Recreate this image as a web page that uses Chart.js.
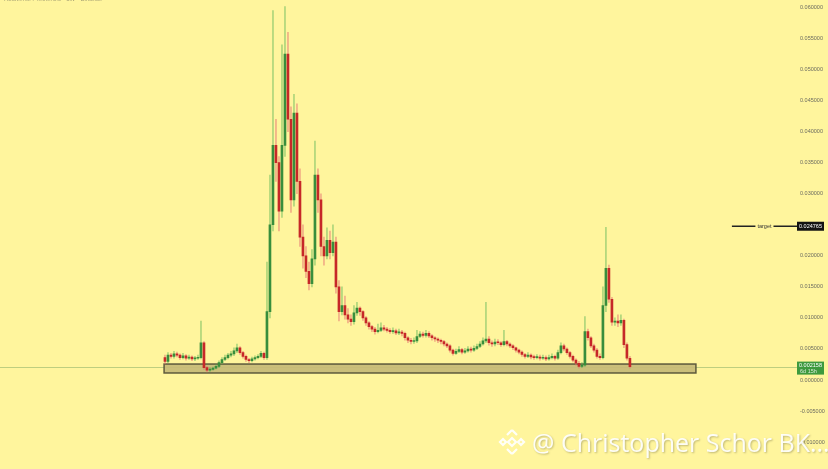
<!DOCTYPE html>
<html>
<head>
<meta charset="utf-8">
<script src="https://cdn.jsdelivr.net/npm/chart.js@4.4.1/dist/chart.umd.min.js"></script>
<style>
  html, body { margin: 0; padding: 0; background: #fff59d; overflow: hidden; }
  #wrap { position: relative; width: 828px; height: 469px; }
  #mycanvas { display: block; }
  #mark {
    position: absolute; left: 498px; top: 425px;
    font-family: "Open Sans", sans-serif; font-size: 25px;
    color: rgba(255,255,255,0.92); text-shadow: 1px 1px 2px rgba(0,0,0,0.25);
    white-space: nowrap; display: flex; align-items: center;
  }
  #mark svg { margin-right: 6px; }
  #title {
    position: absolute; left: 4px; top: -4px;
    font-family: "Liberation Sans", sans-serif; font-size: 6px; color: rgba(90,90,80,0.55);
  }
</style>
</head>
<body>
<div id="wrap">
  <canvas id="mycanvas" width="828" height="469"></canvas>
  <div id="title">Holoverse / TetherUS · 1W · Binance</div>
  <div id="mark">
    <svg width="28" height="28" viewBox="0 0 28 28">
      <g fill="none" stroke="rgba(255,255,255,0.92)" stroke-width="2.2">
        <path d="M14 2 L19 7 M14 2 L9 7"/>
        <path d="M14 26 L19 21 M14 26 L9 21"/>
        <path d="M2 14 L5 11 L8 14 L5 17 Z"/>
        <path d="M20 14 L23 11 L26 14 L23 17 Z"/>
        <path d="M14 10 L18 14 L14 18 L10 14 Z"/>
      </g>
    </svg>
    <span>@ Christopher Schor BK...</span>
  </div>
</div>
<script>
// candle data
var opens = [0.0036,0.0030,0.0040,0.0038,0.0042,0.0040,0.0036,0.0039,0.0035,0.0037,
0.0034,0.0035,0.0036,0.0060,0.0020,0.0016,0.0017,0.0019,0.0022,0.0028,
0.0033,0.0036,0.0040,0.0042,0.0047,0.0052,0.0044,0.0038,0.0033,0.0031,
0.0034,0.0036,0.0038,0.0043,0.0036,0.0110,0.0250,0.0378,0.0350,0.0272,
0.0378,0.0525,0.0420,0.0290,0.0430,0.0320,0.0230,0.0200,0.0175,0.0155,
0.0195,0.0330,0.0290,0.0215,0.0200,0.0225,0.0205,0.0222,0.0150,0.0110,
0.0120,0.0105,0.0098,0.0094,0.0108,0.0116,0.0110,0.0100,0.0092,0.0086,
0.0082,0.0078,0.0080,0.0084,0.0082,0.0080,0.0078,0.0079,0.0076,0.0077,
0.0075,0.0068,0.0064,0.0062,0.0063,0.0070,0.0074,0.0072,0.0075,0.0071,
0.0068,0.0066,0.0064,0.0062,0.0058,0.0055,0.0048,0.0043,0.0046,0.0049,
0.0045,0.0047,0.0050,0.0048,0.0051,0.0054,0.0058,0.0063,0.0066,0.0060,
0.0058,0.0061,0.0060,0.0057,0.0062,0.0058,0.0055,0.0052,0.0048,0.0045,
0.0041,0.0038,0.0040,0.0037,0.0036,0.0037,0.0035,0.0036,0.0034,0.0036,
0.0038,0.0035,0.0044,0.0055,0.0050,0.0044,0.0038,0.0032,0.0027,0.0022,
0.0024,0.0078,0.0068,0.0055,0.0048,0.0038,0.0036,0.0120,0.0180,0.0130,
0.0093,0.0095,0.0092,0.0096,0.0057,0.0035];

var highs = [0.0040,0.0044,0.0043,0.0046,0.0045,0.0042,0.0043,0.0041,0.0040,0.0039,
0.0038,0.0040,0.0095,0.0062,0.0022,0.0020,0.0021,0.0025,0.0031,0.0036,
0.0040,0.0043,0.0046,0.0052,0.0058,0.0054,0.0046,0.0040,0.0035,0.0037,
0.0039,0.0041,0.0046,0.0045,0.0190,0.0330,0.0595,0.0420,0.0360,0.0540,
0.0617,0.0560,0.0440,0.0460,0.0445,0.0340,0.0250,0.0215,0.0190,0.0210,
0.0385,0.0340,0.0300,0.0230,0.0245,0.0240,0.0250,0.0230,0.0160,0.0150,
0.0135,0.0115,0.0105,0.0120,0.0125,0.0118,0.0112,0.0102,0.0094,0.0088,
0.0085,0.0090,0.0092,0.0088,0.0085,0.0083,0.0084,0.0082,0.0082,0.0080,
0.0077,0.0070,0.0067,0.0068,0.0080,0.0078,0.0077,0.0080,0.0078,0.0073,
0.0070,0.0068,0.0066,0.0064,0.0060,0.0057,0.0050,0.0050,0.0054,0.0051,
0.0051,0.0054,0.0053,0.0055,0.0058,0.0062,0.0068,0.0125,0.0070,0.0063,
0.0066,0.0065,0.0062,0.0080,0.0064,0.0060,0.0057,0.0053,0.0050,0.0047,
0.0043,0.0044,0.0042,0.0040,0.0041,0.0040,0.0040,0.0039,0.0040,0.0042,
0.0040,0.0048,0.0060,0.0058,0.0052,0.0046,0.0040,0.0034,0.0030,0.0028,
0.0102,0.0082,0.0070,0.0058,0.0051,0.0042,0.0150,0.0246,0.0185,0.0133,
0.0100,0.0105,0.0105,0.0098,0.0060,0.0038];

var lows = [0.0026,0.0028,0.0035,0.0035,0.0037,0.0033,0.0034,0.0032,0.0033,0.0031,
0.0031,0.0033,0.0034,0.0017,0.0013,0.0014,0.0016,0.0018,0.0020,0.0026,
0.0031,0.0034,0.0037,0.0039,0.0044,0.0041,0.0035,0.0030,0.0028,0.0029,
0.0032,0.0034,0.0036,0.0033,0.0033,0.0100,0.0240,0.0320,0.0240,0.0262,
0.0360,0.0400,0.0270,0.0280,0.0300,0.0215,0.0180,0.0165,0.0145,0.0150,
0.0185,0.0270,0.0200,0.0185,0.0195,0.0195,0.0200,0.0140,0.0095,0.0105,
0.0098,0.0092,0.0088,0.0090,0.0104,0.0104,0.0096,0.0088,0.0082,0.0078,
0.0074,0.0076,0.0078,0.0079,0.0077,0.0075,0.0075,0.0073,0.0073,0.0071,
0.0064,0.0060,0.0058,0.0059,0.0060,0.0068,0.0069,0.0069,0.0068,0.0064,
0.0062,0.0060,0.0058,0.0055,0.0052,0.0045,0.0040,0.0041,0.0044,0.0042,
0.0043,0.0045,0.0045,0.0046,0.0049,0.0052,0.0056,0.0060,0.0056,0.0054,
0.0055,0.0057,0.0054,0.0055,0.0055,0.0052,0.0049,0.0045,0.0042,0.0038,
0.0035,0.0036,0.0034,0.0033,0.0034,0.0032,0.0033,0.0031,0.0032,0.0034,
0.0032,0.0033,0.0042,0.0047,0.0041,0.0035,0.0029,0.0024,0.0019,0.0020,
0.0022,0.0064,0.0052,0.0045,0.0035,0.0033,0.0034,0.0110,0.0125,0.0088,
0.0088,0.0086,0.0088,0.0052,0.0032,0.0019];

var closes = [0.0030,0.0040,0.0038,0.0042,0.0040,0.0036,0.0039,0.0035,0.0037,0.0034,
0.0035,0.0036,0.0060,0.0020,0.0016,0.0017,0.0019,0.0022,0.0028,0.0033,
0.0036,0.0040,0.0042,0.0047,0.0052,0.0044,0.0038,0.0033,0.0031,0.0034,
0.0036,0.0038,0.0043,0.0036,0.0110,0.0250,0.0378,0.0350,0.0272,0.0378,
0.0525,0.0420,0.0290,0.0430,0.0320,0.0230,0.0200,0.0175,0.0155,0.0195,
0.0330,0.0290,0.0215,0.0200,0.0225,0.0205,0.0222,0.0150,0.0110,0.0120,
0.0105,0.0098,0.0094,0.0108,0.0116,0.0110,0.0100,0.0092,0.0086,0.0082,
0.0078,0.0080,0.0084,0.0082,0.0080,0.0078,0.0079,0.0076,0.0077,0.0075,
0.0068,0.0064,0.0062,0.0063,0.0070,0.0074,0.0072,0.0075,0.0071,0.0068,
0.0066,0.0064,0.0062,0.0058,0.0055,0.0048,0.0043,0.0046,0.0049,0.0045,
0.0047,0.0050,0.0048,0.0051,0.0054,0.0058,0.0063,0.0066,0.0060,0.0058,
0.0061,0.0060,0.0057,0.0062,0.0058,0.0055,0.0052,0.0048,0.0045,0.0041,
0.0038,0.0040,0.0037,0.0036,0.0037,0.0035,0.0036,0.0034,0.0036,0.0038,
0.0035,0.0044,0.0055,0.0050,0.0044,0.0038,0.0032,0.0027,0.0022,0.0024,
0.0078,0.0068,0.0055,0.0048,0.0038,0.0036,0.0120,0.0180,0.0130,0.0093,
0.0095,0.0092,0.0096,0.0057,0.0035,0.002158];

var yTicks = [-0.01,-0.005,0,0.005,0.01,0.015,0.02,0.025,0.03,0.035,0.04,0.045,0.05,0.055,0.06];

var lastPrice = 0.002158;
var lastLabel2 = '6d 15h';
var targetPrice = 0.024765;
var targetFrom = 189;          // candle index where the target line starts
var zoneFrom = -0.3, zoneTo = 177, zoneLow = 0.00113, zoneHigh = 0.00257;

var upColor = 'rgb(56,142,60)';
var downColor = 'rgb(198,40,40)';
var upWick = 'rgba(76,175,80,0.45)';
var downWick = 'rgba(229,115,115,0.55)';

var wicks = [], bodies = [], wickColors = [], bodyColors = [];
for (var i = 0; i < closes.length; i++) {
  var up = closes[i] >= opens[i];
  wicks.push({ x: i, y: [lows[i], highs[i]] });
  bodies.push({ x: i, y: [opens[i], closes[i]] });
  wickColors.push(up ? upWick : downWick);
  bodyColors.push(up ? upColor : downColor);
}

var overlays = {
  id: 'overlays',
  beforeDatasetsDraw: function (chart) {
    var c = chart.ctx, xs = chart.scales.x, ys = chart.scales.y, a = chart.chartArea;
    // last price line
    var yp = Math.round(ys.getPixelForValue(lastPrice)) + 0.5;
    c.save();
    c.strokeStyle = 'rgba(110,160,90,0.45)';
    c.lineWidth = 1;
    c.beginPath(); c.moveTo(0, yp); c.lineTo(a.right, yp); c.stroke();
    // support zone
    var x1 = xs.getPixelForValue(zoneFrom), x2 = xs.getPixelForValue(zoneTo);
    var y1 = ys.getPixelForValue(zoneHigh), y2 = ys.getPixelForValue(zoneLow);
    c.fillStyle = 'rgba(200,188,120,0.95)';
    c.fillRect(x1, y1, x2 - x1, y2 - y1);
    c.strokeStyle = '#5e5a3c';
    c.lineWidth = 1.5;
    c.strokeRect(x1, y1, x2 - x1, y2 - y1);
    c.restore();
  },
  afterDraw: function (chart) {
    var c = chart.ctx, xs = chart.scales.x, ys = chart.scales.y, a = chart.chartArea;
    c.save();
    // target line
    var yt = ys.getPixelForValue(targetPrice);
    var xt = xs.getPixelForValue(targetFrom);
    c.strokeStyle = '#222';
    c.lineWidth = 1.5;
    c.beginPath(); c.moveTo(xt, yt); c.lineTo(a.right, yt); c.stroke();
    c.font = '5.5px "Liberation Sans", sans-serif';
    var mid = (xt + a.right) / 2;
    var tw = c.measureText('target').width;
    c.fillStyle = '#fff59d';
    c.fillRect(mid - tw / 2 - 2, yt - 3, tw + 4, 6);
    c.fillStyle = '#333';
    c.textAlign = 'center'; c.textBaseline = 'middle';
    c.fillText('target', mid, yt);
    c.fillStyle = '#131313';
    c.fillRect(a.right, yt - 4.5, 27, 9);
    c.fillStyle = '#fff';
    c.fillText(targetPrice.toFixed(6), a.right + 13.5, yt);
    // last price label
    var yp = ys.getPixelForValue(lastPrice);
    c.fillStyle = '#3e9a3e';
    c.fillRect(a.right, yp - 5, 27, 13);
    c.fillStyle = '#fff';
    c.fillText(lastPrice.toFixed(6), a.right + 13.5, yp - 1);
    c.fillStyle = 'rgba(255,255,255,0.8)';
    c.textAlign = 'left';
    c.fillText(lastLabel2, a.right + 3, yp + 4.5);
    c.restore();
  }
};

var ctx = document.getElementById('mycanvas');

var chart = new Chart(ctx, {
  type: 'bar',
  data: {
    datasets: [
      {
        label: 'wicks',
        data: wicks,
        backgroundColor: wickColors,
        barThickness: 1,
        grouped: false,
        order: 2
      },
      {
        label: 'bodies',
        data: bodies,
        backgroundColor: bodyColors,
        barThickness: 2,
        minBarLength: 1,
        grouped: false,
        order: 1
      }
    ]
  },
  options: {
    responsive: false,
    animation: false,
    layout: { padding: 0 },
    plugins: { legend: { display: false }, tooltip: { enabled: false } },
    scales: {
      x: {
        type: 'linear',
        min: -55,
        max: 210.7,
        display: false,
        offset: false
      },
      y: {
        position: 'right',
        min: -0.01332,
        max: 0.06019,
        grid: { display: false, drawTicks: false },
        border: { display: false },
        afterBuildTicks: function (scale) {
          scale.ticks = yTicks.map(function (v) { return { value: v }; });
        },
        afterFit: function (scale) { scale.width = 31; },
        ticks: {
          padding: 3,
          color: '#6b6b60',
          font: { size: 5.5, family: '"Liberation Sans", sans-serif' },
          callback: function (v) { return v.toFixed(6); }
        }
      }
    }
  },
  plugins: [overlays]
});
</script>
</body>
</html>
